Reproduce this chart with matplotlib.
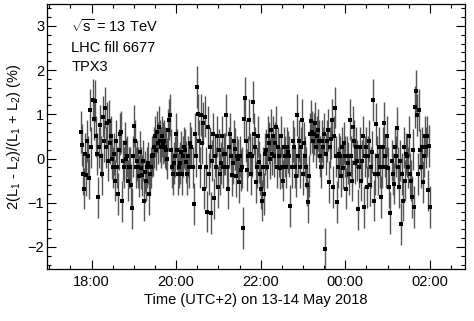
import numpy as np
import matplotlib
matplotlib.use("Agg")
import matplotlib.pyplot as plt
from matplotlib.ticker import MultipleLocator, FuncFormatter

# asymmetry values (%), in time order
asym = [
    0.6, 0.3, -0.35, -0.68, 0.1, -0.38, 0.4, 0.05, -0.45, 1.1, 0.25, 1.32, 0.9, 1.3, 0.5, 0.1,
    -0.88, 0.25, 0.75, 0.05, -0.35, 0.95, 0.4, 1.15, 0.25, 0.8, -0.05, 0.85, 0.35, 0.5, 0.0, -0.2,
    0.1, -0.5, 0.4, -0.2, -0.8, 0.2, 0.55, 0.6, -0.97, -0.05, -0.2, 0.35, 0.0, 0.05, -0.5, -0.2,
    -0.2, -0.6, -1.13, 0.05, 0.73, 0.4, -0.2, -0.05, -0.2, -0.4, 0.15, -0.22, -0.38, -0.05, -0.95, -0.3,
    -0.5, -0.2, -0.1, -0.8, -0.35, -0.2, 0.05, 0.08, 0.25, 0.5, 0.2, 0.6, 0.35, 0.72, 0.4, 0.25,
    0.5, 0.35, 0.4, 0.25, 0.2, 0.0, 0.65, 0.88, 0.98, 0.2, -0.2, -0.35, -0.1, 0.05, 0.55, 0.2,
    -0.35, -0.2, -0.1, 0.15, -0.35, 0.05, 0.25, 0.2, -0.08, -0.35, 0.05, -0.2, 0.35, 0.25, -0.2, -1.03,
    0.55, 0.05, 1.62, 1.0, 0.4, -0.2, 0.98, 0.35, 0.8, -0.68, 0.95, -0.2, -1.2, 0.72, -0.35, 0.25,
    -1.23, -0.05, 0.55, -0.9, 0.05, -0.2, 0.5, -0.65, 0.2, -0.35, -0.1, 0.5, -0.2, 0.1, 0.1, 0.98,
    -0.2, -0.68, 0.25, 0.55, 0.05, -0.38, -0.1, 0.4, 0.22, -0.4, 0.05, -0.02, -0.53, 0.05, -0.26, -0.2,
    -1.57, 0.9, 1.37, 0.4, -0.26, 0.05, 0.88, 0.1, -0.35, 0.05, 1.28, 0.55, 0.25, -0.53, -0.2, 0.5,
    -0.08, -0.35, -0.68, -0.95, -0.2, -0.8, 0.1, 0.2, -0.2, 0.5, 0.35, 0.0, 0.65, 0.1, 0.5, 0.05,
    0.35, 0.72, -0.2, 0.25, 0.05, -0.22, 0.5, -0.2, -0.5, 0.25, 0.05, -0.2, 0.25, 0.15, 0.05, -1.08,
    -0.2, 0.4, 0.25, -0.2, -0.4, 0.98, 0.05, 0.4, -0.2, 0.25, 0.88, -0.35, 0.35, 0.05, -0.2, -0.6,
    -0.98, -0.4, 0.55, 0.85, 0.6, 0.4, 0.55, 0.8, 0.25, 0.5, 0.65, 0.4, 0.05, -0.2, 0.4, 0.25,
    0.55, -2.04, 0.1, 0.4, 0.65, -0.53, 0.25, 0.45, 0.88, -0.65, 0.5, 1.15, 0.05, -0.98, -0.2, 0.1,
    0.05, -0.4, 0.25, -0.22, 0.35, 0.05, -0.68, 0.05, -0.1, -0.35, 0.88, 0.05, -0.5, 0.72, 0.4, -0.1,
    0.25, -0.05, -1.15, -0.2, 0.25, -0.5, -0.05, 0.5, -1.1, 0.05, 0.25, -0.65, 0.05, 0.4, -0.6, -0.2,
    0.15, 1.32, -0.95, -0.35, 0.78, 0.05, -0.35, 0.25, -0.2, -0.87, -0.2, 0.25, 0.8, 0.05, -0.2, 0.5,
    -0.22, -0.65, -1.23, -0.05, -0.35, -0.57, 0.25, 0.05, 0.7, -0.2, -0.65, -0.05, -1.48, -0.35, -0.95, 0.25,
    -0.5, 0.1, 0.05, -0.2, 0.5, -0.35, -0.5, -0.87, 0.2, -1.1, 1.17, 1.53, 0.98, -0.35, 1.1, 0.2,
    -0.2, 0.25, -0.53, 0.05, 0.5, 0.25, 0.5, -0.72, 0.28, -1.1,
]
asym_err = 0.47          # typical statistical error (%)
t_start = 17.76          # 17:46 on 13 May (hours)
t_end = 26.0             # 02:00 on 14 May

t = np.linspace(t_start, t_end, len(asym))

plt.rcParams['font.family'] = ['Liberation Sans', 'DejaVu Sans']
plt.rcParams['mathtext.fontset'] = 'custom'
plt.rcParams['mathtext.rm'] = 'Liberation Sans'
plt.rcParams['mathtext.it'] = 'Liberation Sans'

fig = plt.figure(figsize=(4.74, 3.21), dpi=100)
ax = fig.add_axes([0.099, 0.162, 0.882, 0.826])

ax.errorbar(t, asym, yerr=asym_err, fmt='s', ms=2.8, color='black',
            ecolor='0.33', elinewidth=1.0, capsize=0, mew=0)

ax.set_xlim(16.945, 26.83)
ax.set_ylim(-2.5, 3.5)

ax.xaxis.set_major_locator(MultipleLocator(2))
ax.xaxis.set_minor_locator(MultipleLocator(0.5))
ax.xaxis.set_major_formatter(FuncFormatter(lambda v, p: '%02d:00' % (int(round(v)) % 24)))
ax.yaxis.set_major_locator(MultipleLocator(1))
ax.yaxis.set_minor_locator(MultipleLocator(0.2))

ax.tick_params(which='both', direction='in', top=True, right=True, labelsize=10.5, width=0.8)
ax.tick_params(which='major', length=6.5)
ax.tick_params(which='minor', length=3.2)
ax.tick_params(axis='y', pad=2)
ax.tick_params(axis='x', pad=4)
for s in ax.spines.values():
    s.set_linewidth(0.9)

ax.set_xlabel('Time (UTC+2) on 13-14 May 2018', fontsize=10.5, labelpad=3)
ax.set_ylabel(r'2(L$_{1}$ - L$_{2}$)/(L$_{1}$ + L$_{2}$) (%)', fontsize=10.5, labelpad=3)

ax.text(0.058, 0.895, r'$\sqrt{\mathrm{s}}$ = 13 TeV', transform=ax.transAxes, fontsize=10.5)
ax.text(0.058, 0.818, 'LHC fill 6677', transform=ax.transAxes, fontsize=10.5)
ax.text(0.058, 0.745, 'TPX3', transform=ax.transAxes, fontsize=10.5)

fig.savefig('out.png', dpi=100)
